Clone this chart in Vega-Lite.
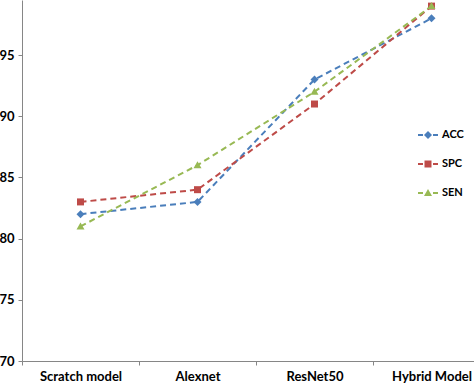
{
  "$schema": "https://vega.github.io/schema/vega-lite/v6.json",
  "width": 452,
  "height": 361,
  "autosize": {"type": "none"},
  "padding": {"left": 22, "top": 0, "right": 0, "bottom": 26},
  "background": "white",
  "config": {"view": {"stroke": null}, "font": "Lato"},
  "data": {
    "values": [
      {"model": "Scratch model", "metric": "ACC", "value": 82},
      {"model": "Alexnet", "metric": "ACC", "value": 83},
      {"model": "ResNet50", "metric": "ACC", "value": 93},
      {"model": "Hybrid Model", "metric": "ACC", "value": 98},
      {"model": "Scratch model", "metric": "SPC", "value": 83},
      {"model": "Alexnet", "metric": "SPC", "value": 84},
      {"model": "ResNet50", "metric": "SPC", "value": 91},
      {"model": "Hybrid Model", "metric": "SPC", "value": 99},
      {"model": "Scratch model", "metric": "SEN", "value": 81},
      {"model": "Alexnet", "metric": "SEN", "value": 86},
      {"model": "ResNet50", "metric": "SEN", "value": 92},
      {"model": "Hybrid Model", "metric": "SEN", "value": 99}
    ]
  },
  "layer": [
    {
      "mark": {"type": "line", "strokeDash": [6, 4], "strokeWidth": 2},
      "encoding": {
        "x": {
          "field": "model", "type": "nominal",
          "sort": ["Scratch model", "Alexnet", "ResNet50", "Hybrid Model"],
          "scale": {"type": "band", "range": [0, 468], "paddingInner": 0, "paddingOuter": 0},
          "axis": {"title": null, "labelAngle": 0, "tickBand": "extent", "tickSize": 4, "labelPadding": 5,
                   "labelFont": "Lato", "labelFontSize": 13, "labelFontWeight": "bold", "labelColor": "#000",
                   "domainColor": "#868686", "tickColor": "#868686", "grid": false}
        },
        "y": {
          "field": "value", "type": "quantitative",
          "scale": {"domain": [70, 99.5], "nice": false, "zero": false},
          "axis": {"title": null, "values": [70, 75, 80, 85, 90, 95], "tickSize": 4, "labelPadding": 4,
                   "labelFont": "Lato", "labelFontSize": 13, "labelFontWeight": "bold", "labelColor": "#000",
                   "domainColor": "#868686", "tickColor": "#868686", "grid": false}
        },
        "stroke": {
          "field": "metric", "type": "nominal",
          "sort": ["ACC", "SPC", "SEN"],
          "scale": {"range": ["#4A7EBB", "#BE4B48", "#98B954"]},
          "legend": {"title": null, "orient": "none", "legendX": 395, "legendY": 124,
                     "symbolType": "M-1,0H-0.5M0.5,0H1", "symbolSize": 400, "symbolStrokeWidth": 2,
                     "labelFont": "Lato", "labelFontSize": 11, "labelFontWeight": "bold", "labelColor": "#000",
                     "rowPadding": 13, "labelOffset": 3, "padding": 0}
        }
      }
    },
    {
      "mark": {"type": "point", "filled": true, "opacity": 1, "size": 400},
      "encoding": {
        "x": {"field": "model", "type": "nominal", "sort": ["Scratch model", "Alexnet", "ResNet50", "Hybrid Model"]},
        "y": {"field": "value", "type": "quantitative"},
        "color": {
          "field": "metric", "type": "nominal",
          "scale": {"domain": ["ACC", "SPC", "SEN"], "range": ["#4A7EBB", "#BE4B48", "#98B954"]},
          "legend": {"title": null, "orient": "none", "legendX": 395, "legendY": 124, "symbolSize": 400,
                     "labelFont": "Lato", "labelFontSize": 11, "labelFontWeight": "bold", "labelOpacity": 0,
                     "rowPadding": 13, "labelOffset": 3, "padding": 0}
        },
        "shape": {
          "field": "metric", "type": "nominal",
          "scale": {"domain": ["ACC", "SPC", "SEN"],
                    "range": ["M0,-0.4L0.4,0L0,0.4L-0.4,0Z", "M-0.35,-0.35H0.35V0.35H-0.35Z", "M0,-0.4L0.4,0.3H-0.4Z"]}
        }
      }
    }
  ]
}
